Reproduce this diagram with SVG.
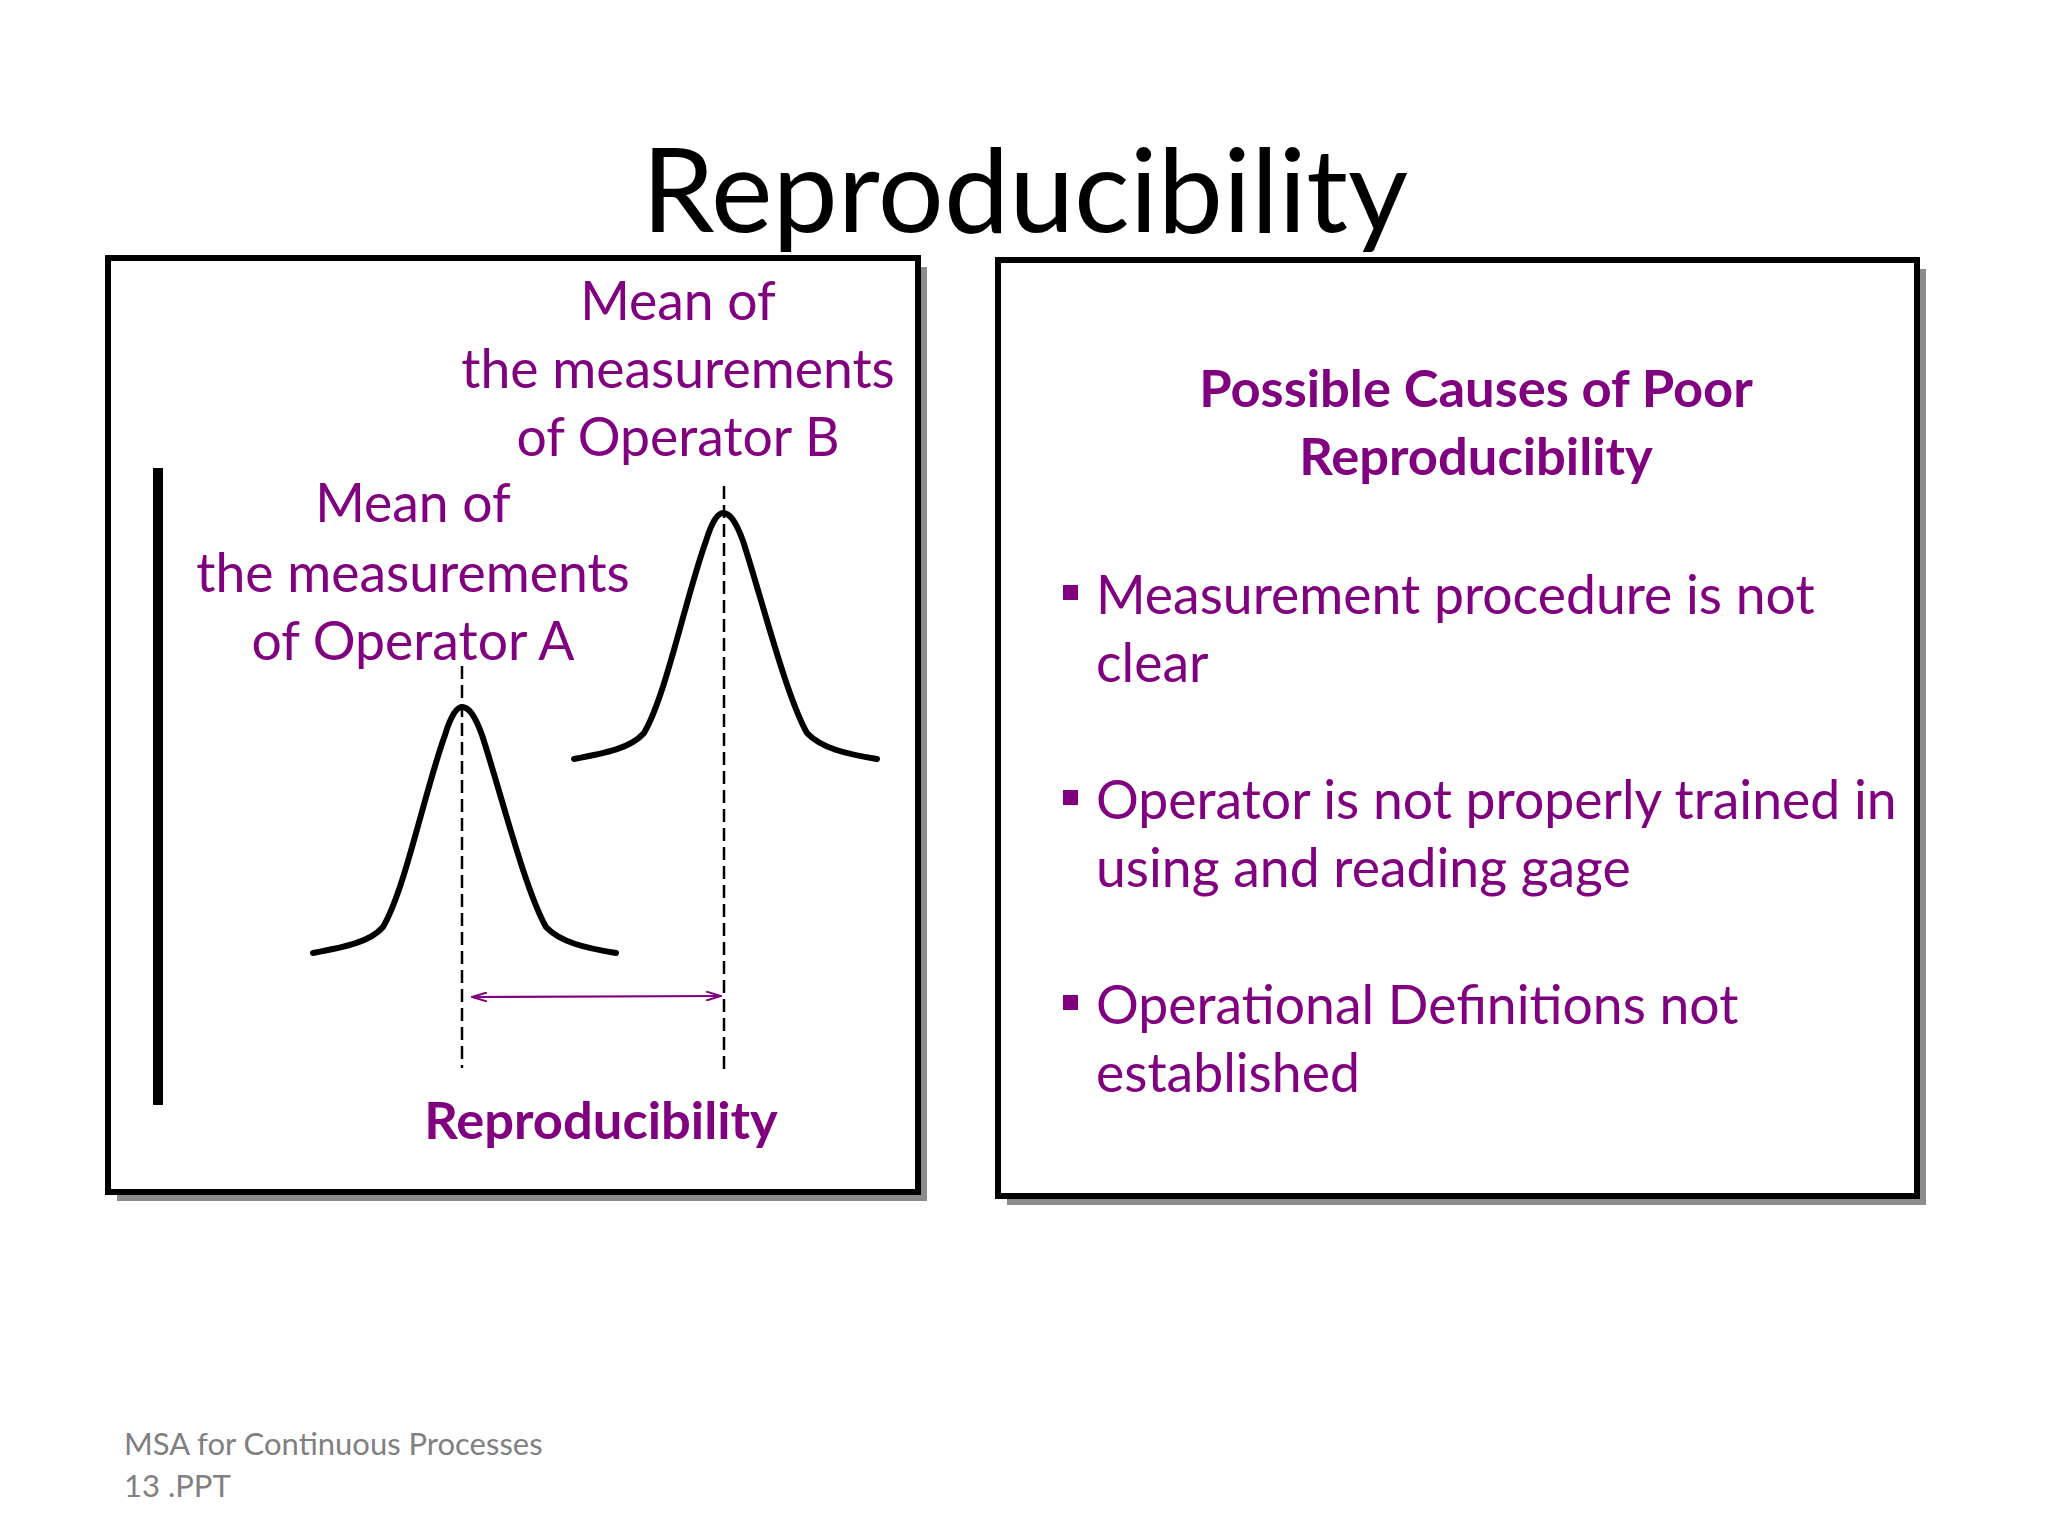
<svg xmlns="http://www.w3.org/2000/svg" width="2048" height="1536" viewBox="0 0 2048 1536">
<defs>
<style>
.t{font-family:Lato,"Open Sans","Liberation Sans",sans-serif;fill:#800080;font-size:53.5px}
.b{font-weight:bold;font-size:52.5px}
.box{fill:#fff;stroke:#000;stroke-width:6}
.sh{fill:#8c8c8c}
.curve{fill:none;stroke:#000;stroke-width:6;stroke-linecap:round;stroke-linejoin:round}
.dash{stroke:#000;stroke-width:2.5;stroke-dasharray:13,6}
</style>
<marker id="ah" viewBox="0 0 16 10" refX="15" refY="5" markerWidth="16" markerHeight="10" markerUnits="userSpaceOnUse" orient="auto-start-reverse">
<path d="M0,0.5 L15,5 L0,9.5" fill="none" stroke="#800080" stroke-width="2"/>
</marker>
</defs>
<rect width="2048" height="1536" fill="#fff"/>
<g id="left-panel">
<rect class="sh" x="117" y="267" width="810" height="934"/>
<rect class="box" x="108" y="258" width="810" height="934"/>
<rect x="153" y="468" width="10" height="637" fill="#000"/>
</g>
<g id="right-panel">
<rect class="sh" x="1007" y="269" width="919" height="936"/>
<rect class="box" x="998" y="260" width="919" height="936"/>
</g>
<text id="title" x="1025" y="232" text-anchor="middle" font-family="Lato,'Open Sans','Liberation Sans',sans-serif" font-size="116.5" fill="#000">Reproducibility</text>
<g id="curve-a">
<path class="curve" d="M313,953 C345,947 370,942 383,927 C405,890 425,790 445,735 C452,712 458,707 462,707 C468,707 474,713 482,735 C500,790 525,890 546,927 C560,942 585,948 616,953"/>
</g>
<g id="curve-b">
<path class="curve" transform="translate(261,-194)" d="M313,953 C345,947 370,942 383,927 C405,890 425,790 445,735 C452,712 458,707 462,707 C468,707 474,713 482,735 C500,790 525,890 546,927 C560,942 585,948 616,953"/>
</g>
<g id="connectors">
<line class="dash" x1="462" y1="666" x2="462" y2="1068"/>
<line class="dash" x1="724" y1="486" x2="724" y2="1071"/>
<line x1="472" y1="997" x2="721" y2="996" stroke="#800080" stroke-width="2.2" marker-start="url(#ah)" marker-end="url(#ah)"/>
</g>
<g id="label-b">
<text class="t" x="678" y="320" text-anchor="middle">Mean of</text>
<text class="t" x="678" y="388" text-anchor="middle">the measurements</text>
<text class="t" x="678" y="456" text-anchor="middle">of Operator B</text>
</g>
<g id="label-a">
<text class="t" x="413" y="522" text-anchor="middle">Mean of</text>
<text class="t" x="413" y="592" text-anchor="middle">the measurements</text>
<text class="t" x="413" y="660" text-anchor="middle">of Operator A</text>
</g>
<text id="label-repro" class="t b" x="601" y="1139" text-anchor="middle">Reproducibility</text>
<g id="causes">
<text class="t b" x="1476" y="407" text-anchor="middle">Possible Causes of Poor</text>
<text class="t b" x="1476" y="475" text-anchor="middle">Reproducibility</text>
<rect x="1063" y="585" width="15" height="15" fill="#800080"/>
<text class="t" x="1096" y="614">Measurement procedure is not</text>
<text class="t" x="1096" y="682">clear</text>
<rect x="1063" y="790" width="15" height="15" fill="#800080"/>
<text class="t" x="1096" y="819">Operator is not properly trained in</text>
<text class="t" x="1096" y="887">using and reading gage</text>
<rect x="1063" y="995" width="15" height="15" fill="#800080"/>
<text class="t" x="1096" y="1024">Operational Definitions not</text>
<text class="t" x="1096" y="1092">established</text>
</g>
<g id="footer" font-family="Lato,'Open Sans','Liberation Sans',sans-serif" font-size="31" fill="#808080">
<text x="124" y="1455">MSA for Continuous Processes</text>
<text x="124" y="1497">13 .PPT</text>
</g>
</svg>
